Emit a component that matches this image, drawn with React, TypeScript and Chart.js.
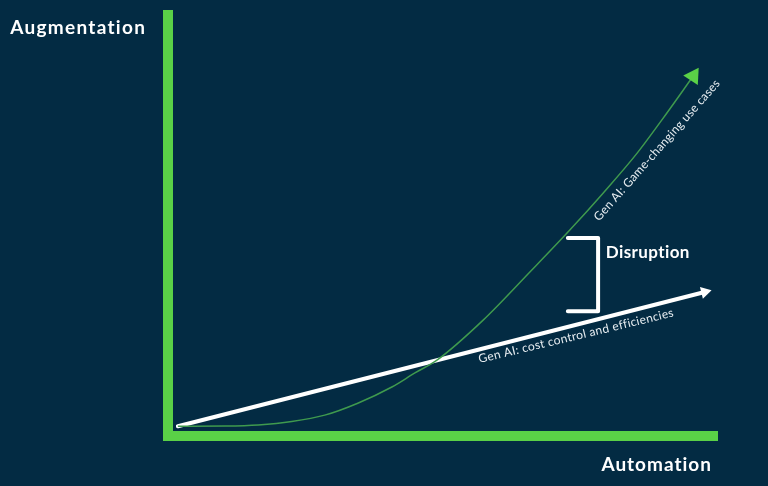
import React, { useEffect, useRef } from 'react';
import { Chart, registerables } from 'chart.js';

Chart.register(...registerables);

// Axis frame (top of y axis, origin corner, end of x axis)
const axisX = [0, 0, 100];
const axisY = [100, 0, 0];

// Automation line: straight from origin to the arrowhead
const automationX = [1.8, 97.6];
const automationY = [2.3, 33.8];

// Game-changing curve
const curveX = [1.8, 10.4, 16.4, 22.5, 28.5, 34.5, 40.7, 44.9, 48.9, 57.3, 65.8, 73.1, 79.1, 85.3, 89.8, 95.5];
const curveY = [2.3, 2.35, 2.6, 3.4, 4.9, 7.7, 11.5, 14.8, 17.8, 27.2, 38.5, 48.4, 57.0, 66.4, 74.2, 84.5];

// Disruption bracket
const bracketX = [72.7, 78.2, 78.2, 72.7];
const bracketY = [46.5, 46.5, 29.3, 29.3];

const labels = ['Augmentation', 'Automation', 'Disruption', 'Gen AI: cost control and efficiencies', 'Gen AI: Game-changing use cases'];

const BG = '#032b43';
const GREEN = '#5ad147';
const CURVE = '#3f9a4e';
const FONT = 'Lato, "DejaVu Sans", sans-serif';

const toPoints = (xs: number[], ys: number[]) => xs.map((x, i) => ({ x, y: ys[i] }));

const textPlugin = {
  id: 'textLabels',
  afterDatasetsDraw(chart: any) {
    const { ctx, scales } = chart;
    const px = (v: number) => scales.x.getPixelForValue(v);
    const py = (v: number) => scales.y.getPixelForValue(v);
    const put = (text: string, x: number, y: number, font: string, align: CanvasTextAlign, spacing: string, color: string, angle = 0) => {
      ctx.save();
      ctx.translate(px(x), py(y));
      ctx.rotate((angle * Math.PI) / 180);
      ctx.font = font;
      (ctx as any).letterSpacing = spacing;
      ctx.fillStyle = color;
      ctx.textAlign = align;
      ctx.textBaseline = 'middle';
      ctx.fillText(text, 0, 0);
      ctx.restore();
    };
    put(labels[0], -28.7, 95.8, `bold 19px ${FONT}`, 'left', '1.3px', '#ffffff');
    put(labels[1], 98.9, -6.8, `bold 19px ${FONT}`, 'right', '1px', '#ffffff');
    put(labels[2], 79.6, 43.0, `bold 17px ${FONT}`, 'left', '0.4px', '#ffffff');
    put(labels[3], 74.2, 23.5, `12px ${FONT}`, 'center', '0.3px', '#e6ecf0', -13.5);
    put(labels[4], 88.9, 67.1, `12px ${FONT}`, 'center', '0.2px', '#e6ecf0', -48.6);
  },
};

export default function App() {
  const canvasRef = useRef<HTMLCanvasElement>(null);

  useEffect(() => {
    if (!canvasRef.current) return;
    const chart = new Chart(canvasRef.current, {
      type: 'line',
      data: {
        datasets: [
          {
            label: 'axes',
            data: toPoints(axisX, axisY),
            borderColor: GREEN,
            borderWidth: 10,
            borderJoinStyle: 'miter',
            borderCapStyle: 'butt',
            pointRadius: 0,
            clip: false,
          },
          {
            label: 'curve',
            data: toPoints(curveX, curveY),
            borderColor: CURVE,
            borderWidth: 1.5,
            cubicInterpolationMode: 'monotone',
            pointRadius: curveX.map((_, i) => (i === curveX.length - 1 ? 10 : 0)),
            pointStyle: 'triangle',
            pointRotation: 33,
            pointBackgroundColor: GREEN,
            pointBorderColor: GREEN,
            pointBorderWidth: 0,
            clip: false,
          },
          {
            label: 'automation',
            data: toPoints(automationX, automationY),
            borderColor: '#ffffff',
            borderWidth: 4,
            borderCapStyle: 'round',
            pointRadius: [0, 7],
            pointStyle: 'triangle',
            pointRotation: 76,
            pointBackgroundColor: '#ffffff',
            pointBorderColor: '#ffffff',
            pointBorderWidth: 0,
            clip: false,
          },
          {
            label: 'bracket',
            data: toPoints(bracketX, bracketY),
            borderColor: '#ffffff',
            borderWidth: 4,
            borderJoinStyle: 'round',
            borderCapStyle: 'round',
            pointRadius: 0,
            clip: false,
          },
        ],
      },
      options: {
        animation: false,
        responsive: true,
        maintainAspectRatio: false,
        layout: { padding: { left: 168, right: 50, top: 10, bottom: 50 } },
        plugins: { legend: { display: false }, tooltip: { enabled: false } },
        scales: {
          x: { type: 'linear', min: 0, max: 100, display: false },
          y: { type: 'linear', min: 0, max: 100, display: false },
        },
      },
      plugins: [textPlugin],
    });
    return () => chart.destroy();
  }, []);

  return (
    <div style={{ position: 'fixed', left: 0, top: 0, width: 768, height: 486, background: BG }}>
      <canvas ref={canvasRef}></canvas>
    </div>
  );
}
